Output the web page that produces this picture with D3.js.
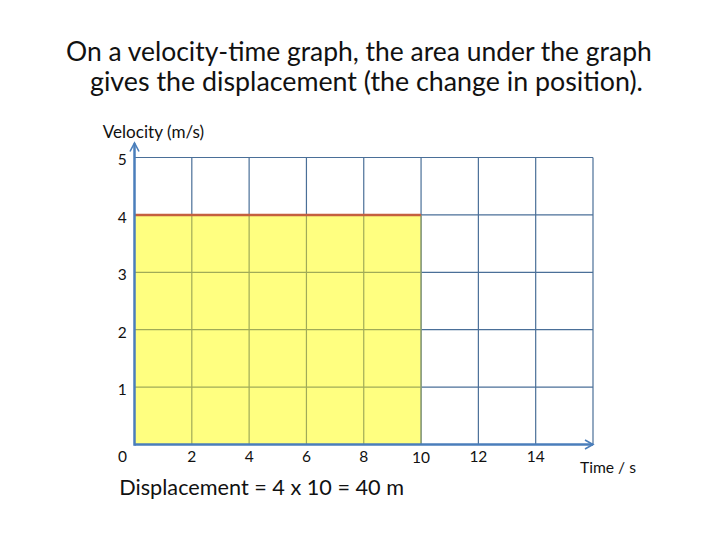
<!DOCTYPE html>
<html>
<head>
<meta charset="utf-8">
<script src="https://cdn.jsdelivr.net/npm/d3@7"></script>
<style>
  html, body { margin: 0; padding: 0; background: #ffffff; }
  svg { display: block; }
  text { font-family: Lato, "Open Sans", sans-serif; fill: #111; }
</style>
</head>
<body>
<svg id="chart" width="728" height="546"></svg>
<script>
// ---- data ----
const titleLines = [
  "On a velocity-time graph, the area under the graph",
  "gives the displacement (the change in position)."
];
const yAxisLabel = "Velocity (m/s)";
const xAxisLabel = "Time / s";
const footnote = "Displacement = 4 x 10 = 40 m";
const times = [0, 10];            // s
const velocity = [4, 4];          // m/s
const xTickValues = [0, 2, 4, 6, 8, 10, 12, 14];
const yTickValues = [0, 1, 2, 3, 4, 5];
const xGridValues = [2, 4, 6, 8, 10, 12, 14, 16];
const yGridValues = [1, 2, 3, 4, 5];
const xDomain = [0, 16];
const yDomain = [0, 5];

// ---- layout ----
const svg = d3.select("#chart");
const x = d3.scaleLinear().domain(xDomain).range([134.5, 593]);
const y = d3.scaleLinear().domain(yDomain).range([444.5, 157.5]);

// text whose font size is fitted to the measured width
function label(xp, yp, size, str, width) {
  const t = svg.append("text").attr("x", xp).attr("y", yp)
    .attr("font-size", size).text(str);
  const w = t.node().getComputedTextLength();
  t.attr("font-size", (size * width / w).toFixed(2));
  return t;
}

// title
label(66, 61, 26, titleLines[0], 586);
label(90, 91, 26, titleLines[1], 553);

const gridColor = "#4a6f98";
const gridInYellow = "#a0ab58";

// grid
const grid = svg.append("g");
grid.selectAll("line.v").data(xGridValues).join("line")
  .attr("x1", d => x(d)).attr("x2", d => x(d))
  .attr("y1", y(0)).attr("y2", y(yDomain[1]))
  .attr("stroke", gridColor).attr("stroke-width", 1.2);
grid.selectAll("line.h").data(yGridValues).join("line")
  .attr("x1", x(0)).attr("x2", x(xDomain[1]))
  .attr("y1", d => y(d)).attr("y2", d => y(d))
  .attr("stroke", gridColor).attr("stroke-width", 1.2);

// area under the graph
const area = d3.area().x(d => x(d[0])).y0(y(0)).y1(d => y(d[1]));
const pts = times.map((t, i) => [t, velocity[i]]);
svg.append("path").datum(pts).attr("d", area).attr("fill", "#ffff80");

// grid lines seen through the yellow area
svg.append("clipPath").attr("id", "areaClip").append("path").datum(pts).attr("d", area);
const g2 = svg.append("g").attr("clip-path", "url(#areaClip)");
g2.selectAll("line.v").data(xGridValues).join("line")
  .attr("x1", d => x(d)).attr("x2", d => x(d))
  .attr("y1", y(0)).attr("y2", y(yDomain[1]))
  .attr("stroke", gridInYellow).attr("stroke-width", 1.2);
g2.selectAll("line.h").data(yGridValues).join("line")
  .attr("x1", x(0)).attr("x2", x(xDomain[1]))
  .attr("y1", d => y(d)).attr("y2", d => y(d))
  .attr("stroke", gridInYellow).attr("stroke-width", 1.2);
// right edge of area
svg.append("line")
  .attr("x1", x(times[1])).attr("x2", x(times[1]))
  .attr("y1", y(0)).attr("y2", y(velocity[1]))
  .attr("stroke", "#8f9f78").attr("stroke-width", 1.3);

// velocity line
svg.append("path").datum(pts)
  .attr("d", d3.line().x(d => x(d[0])).y(d => y(d[1])))
  .attr("fill", "none").attr("stroke", "#c4603f").attr("stroke-width", 2.5);

// axes with arrows
const axisColor = "#4a7ebb";
svg.append("line").attr("x1", x(0)).attr("x2", x(xDomain[1]))
  .attr("y1", y(0)).attr("y2", y(0))
  .attr("stroke", axisColor).attr("stroke-width", 2.5);
svg.append("path")
  .attr("d", `M${x(xDomain[1]) - 8},${y(0) - 4.5} L${x(xDomain[1])},${y(0)} L${x(xDomain[1]) - 8},${y(0) + 4.5}`)
  .attr("fill", "none").attr("stroke", axisColor).attr("stroke-width", 1.6);
svg.append("line").attr("x1", x(0)).attr("x2", x(0))
  .attr("y1", y(0) + 1.2).attr("y2", 143.5)
  .attr("stroke", axisColor).attr("stroke-width", 2.5);
svg.append("path")
  .attr("d", `M${x(0) - 4.5},${151.5} L${x(0)},${143} L${x(0) + 4.5},${151.5}`)
  .attr("fill", "none").attr("stroke", axisColor).attr("stroke-width", 1.6);

// tick labels
svg.append("g").selectAll("text").data(yTickValues.filter(d => d > 0)).join("text")
  .attr("x", 122.3).attr("y", d => y(d) + 7.8).attr("text-anchor", "middle")
  .attr("font-size", 15.5).text(d => d);
svg.append("g").selectAll("text").data(xTickValues).join("text")
  .attr("x", d => d === 0 ? 122.5 : x(d)).attr("y", d => d === 10 ? 463 : 461.8)
  .attr("text-anchor", "middle").attr("font-size", 15.5).text(d => d);

// axis titles
label(102.7, 137.8, 15, yAxisLabel, 101.6);
label(580, 473.3, 15, xAxisLabel, 56);

// footnote
label(119.3, 494.5, 21, footnote, 284.7);
</script>
</body>
</html>
